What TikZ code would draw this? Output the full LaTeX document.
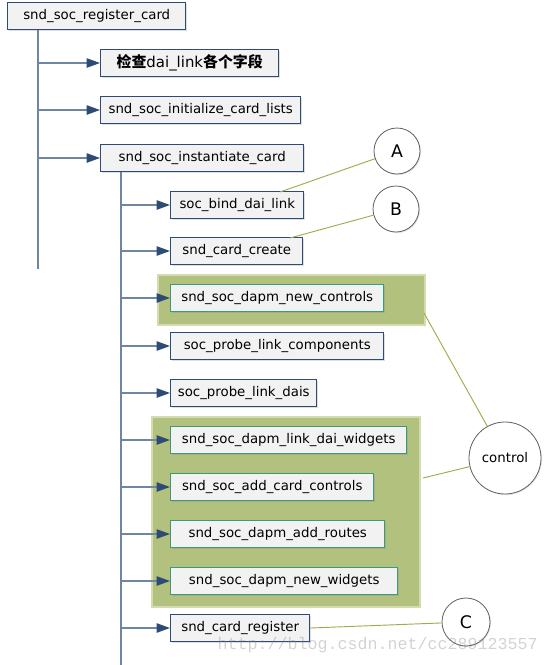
\documentclass[tikz,border=0pt]{standalone}
\usepackage{fontspec}
\setmainfont{DejaVu Sans}
\newfontfamily\cjkfont{Noto Sans CJK SC}
\newfontfamily\wmfont{Liberation Mono}
\usetikzlibrary{arrows.meta,shadows}

\definecolor{boxline}{HTML}{2E4B75}
\definecolor{boxfill}{HTML}{F2F2F2}
\definecolor{trunk}{HTML}{6F86A3}
\definecolor{tip}{HTML}{2E4B75}
\definecolor{dapmline}{HTML}{3A9A7C}
\definecolor{grpfill}{HTML}{B3C17E}
\definecolor{grpedge}{HTML}{D3DCB0}
\definecolor{pinline}{HTML}{9AAE4C}

\tikzset{
  fn/.style={draw=boxline, line width=1.1pt, fill=boxfill,
    minimum width=#1*0.75pt, minimum height=20pt, inner sep=0pt,
    anchor=west, font=\fontsize{10}{12}\selectfont,
    drop shadow={opacity=0.25, shadow xshift=1.2pt, shadow yshift=-1.2pt}},
  dapm/.style={fn=#1, draw=dapmline},
  grp/.style={fill=grpfill, draw=grpedge, line width=2.2pt, inner sep=0pt},
  trunkline/.style={draw=trunk, line width=1pt},
  arr/.style={draw=trunk, line width=1.1pt, -{Triangle[length=10pt,width=7pt,color=tip]}},
  circ/.style={circle, draw=gray!75!black, line width=0.6pt, fill=white,
    minimum size=#1*0.75pt, inner sep=0pt,
    drop shadow={opacity=0.2, shadow xshift=0.8pt, shadow yshift=-0.8pt}},
  pin/.style={draw=pinline, line width=0.7pt}
}

\begin{document}
\begin{tikzpicture}[x=0.75pt, y=-0.75pt]
  \useasboundingbox (0,0) rectangle (546,665);

  % dapm groups
  \node[grp, minimum width=267*0.75pt, minimum height=50*0.75pt] (g1) at (291.5,300) {};
  \node[grp, minimum width=268*0.75pt, minimum height=190*0.75pt] (g2) at (286,512) {};

  % trunks
  \coordinate (t0) at (38,29);
  \coordinate (t1) at (38,269);
  \coordinate (u0) at (121,171);
  \coordinate (u1) at (121,665);
  \draw[trunkline] (t0) -- (t1);
  \draw[trunkline] (u0) -- (u1);

  % functions
  \node[fn=178] (root) at (7,16) {snd\_soc\_register\_card};
  \node[fn=178, font=\fontsize{11.2}{13}\selectfont] (chk) at (100,63) {{\cjkfont\bfseries 检查}dai\_link{\cjkfont\bfseries 各个字段}};
  \node[fn=200] (init) at (100,110) {snd\_soc\_initialize\_card\_lists};
  \node[fn=203] (inst) at (100,158) {snd\_soc\_instantiate\_card};
  \node[fn=133] (bind) at (170,205) {soc\_bind\_dai\_link};
  \node[fn=132] (create) at (170,251) {snd\_card\_create};
  \node[dapm=213] (newctl) at (170,298) {snd\_soc\_dapm\_new\_controls};
  \node[fn=213] (comp) at (170,346) {soc\_probe\_link\_components};
  \node[fn=146] (dais) at (170,393) {soc\_probe\_link\_dais};
  \node[dapm=236] (lnkw) at (170,440) {snd\_soc\_dapm\_link\_dai\_widgets};
  \node[dapm=203] (addctl) at (170,487) {snd\_soc\_add\_card\_controls};
  \node[dapm=214] (routes) at (170,534) {snd\_soc\_dapm\_add\_routes};
  \node[dapm=227] (newwid) at (170,581) {snd\_soc\_dapm\_new\_widgets};
  \node[fn=139] (reg) at (170,628) {snd\_card\_register};

  \foreach \n in {chk,init,inst}
    \draw[arr] (t0 |- \n.west) -- (\n.west);
  \foreach \n in {bind,create,newctl,comp,dais,lnkw,addctl,routes,newwid,reg}
    \draw[arr] (u0 |- \n.west) -- (\n.west);

  % notes
  \coordinate (pa) at (280,192);
  \coordinate (pb) at (290,238);
  \coordinate (pg1) at (424,313);
  \coordinate (pg2) at (423,478);
  \node[circ=46, font=\fontsize{13}{15}\selectfont] (A) at (397,151) {A};
  \node[circ=46, font=\fontsize{13}{15}\selectfont] (B) at (396,209) {B};
  \node[circ=72, font=\fontsize{10}{12}\selectfont] (ctl) at (505,458) {control};
  \node[circ=48, font=\fontsize{13}{15}\selectfont] (C) at (466,622) {C};
  \draw[pin] (pa) -- (A);
  \draw[pin] (pb) -- (B);
  \draw[pin] (pg1) -- (ctl);
  \draw[pin] (pg2) -- (ctl);
  \draw[pin] (reg.east) -- (C);

  \node[anchor=west, text=gray, opacity=0.35, font=\wmfont\fontsize{12.5}{14}\selectfont] (wm) at (213,645) {http://blog.csdn.net/cc289123557};
\end{tikzpicture}
\end{document}
